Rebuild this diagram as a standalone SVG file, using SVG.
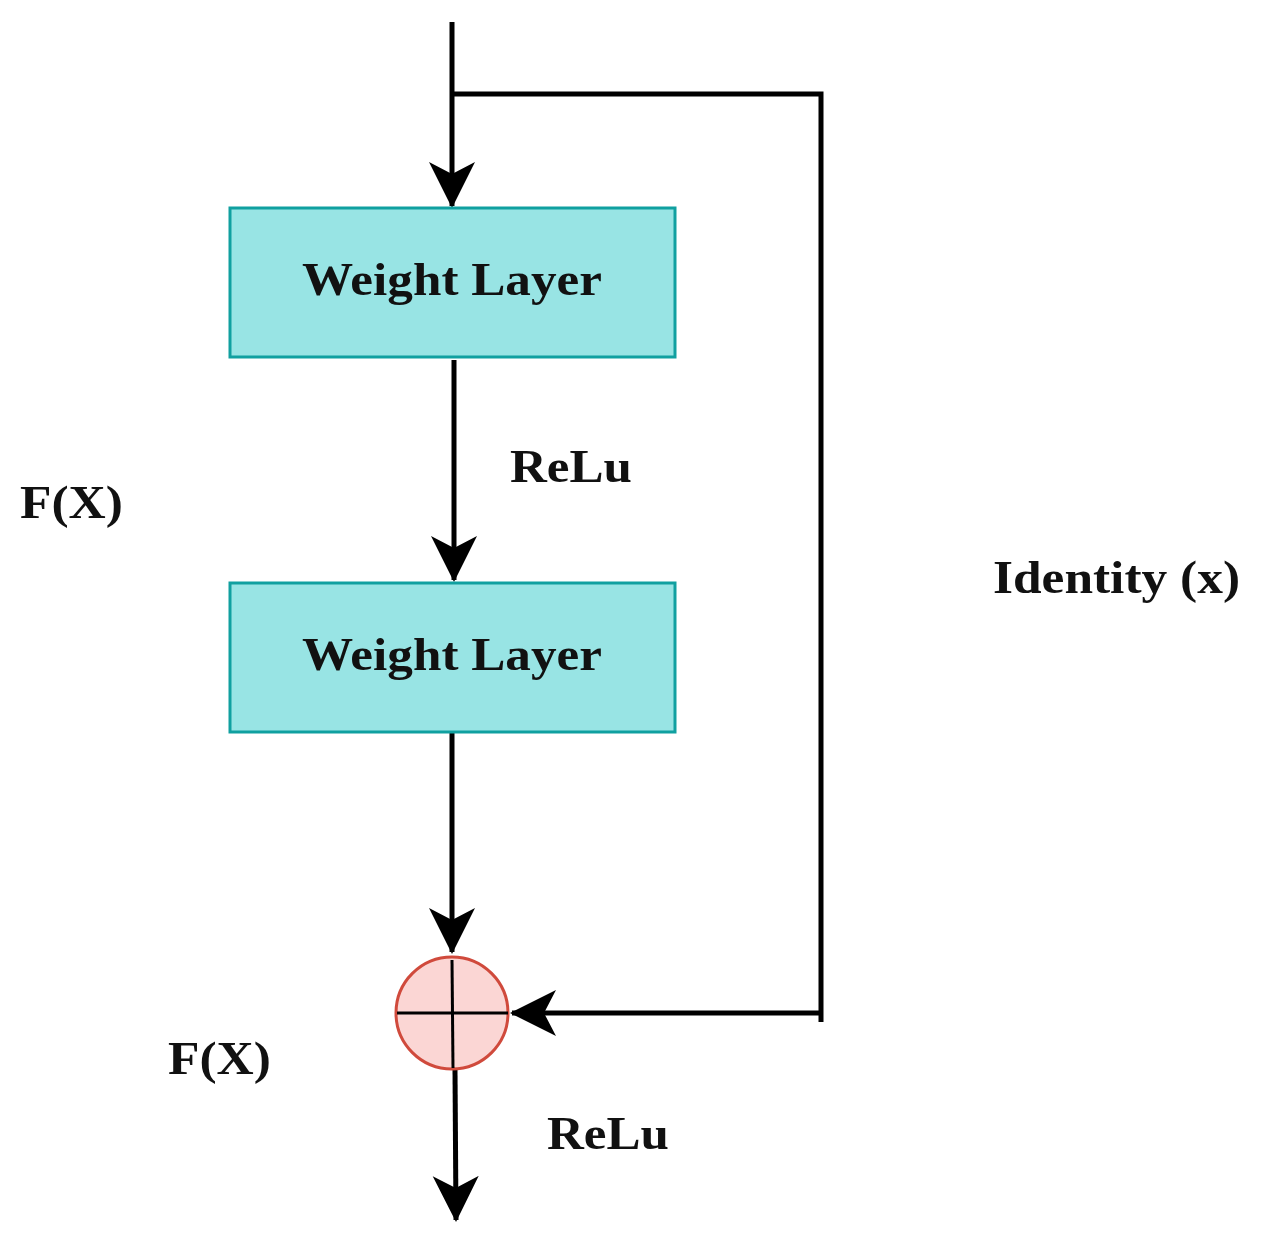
<svg xmlns="http://www.w3.org/2000/svg" width="1261" height="1243" viewBox="0 0 1261 1243">
<style>
.ln{stroke:#000;stroke-width:5;fill:none}
.box{fill:#98e4e4;stroke:#10a0a0;stroke-width:3}
.t{font-family:"Liberation Serif",serif;font-weight:bold;font-size:47px;fill:#111}
</style>
<defs>
<marker id="ah" viewBox="0 0 46 48" refX="44" refY="24" markerWidth="46" markerHeight="48" markerUnits="userSpaceOnUse" orient="auto">
<path d="M0,1 L46,24 L0,47 L12,24 Z" fill="#000"/>
</marker>
</defs>
<rect width="1261" height="1243" fill="#fff"/>
<g id="connectors">
<line class="ln" x1="452" y1="22" x2="452" y2="206" marker-end="url(#ah)"/>
<polyline class="ln" points="452,94 821,94 821,1022"/>
<line class="ln" x1="821" y1="1013" x2="512" y2="1013" marker-end="url(#ah)"/>
<line class="ln" x1="454" y1="360" x2="454" y2="580" marker-end="url(#ah)"/>
<line class="ln" x1="452" y1="733" x2="452" y2="952" marker-end="url(#ah)"/>
<line class="ln" x1="455" y1="1070" x2="456" y2="1220" marker-end="url(#ah)"/>
</g>
<g id="w1"><rect class="box" x="230" y="208" width="445" height="149"/><text class="t" x="302" y="295" textLength="300" lengthAdjust="spacingAndGlyphs">Weight Layer</text></g>
<g id="w2"><rect class="box" x="230" y="583" width="445" height="149"/><text class="t" x="302" y="670" textLength="300" lengthAdjust="spacingAndGlyphs">Weight Layer</text></g>
<g id="add"><circle cx="452" cy="1013" r="56" fill="#fbd6d4" stroke="#d04a3c" stroke-width="3"/>
<line x1="397" y1="1013" x2="508" y2="1013" stroke="#000" stroke-width="3"/>
<line x1="452" y1="960" x2="453" y2="1068" stroke="#000" stroke-width="3"/></g>
<g id="labels">
<text class="t" x="510" y="482" textLength="122" lengthAdjust="spacingAndGlyphs">ReLu</text>
<text class="t" x="20" y="518" textLength="103" lengthAdjust="spacingAndGlyphs">F(X)</text>
<text class="t" x="993" y="593" textLength="247" lengthAdjust="spacingAndGlyphs">Identity (x)</text>
<text class="t" x="168" y="1074" textLength="103" lengthAdjust="spacingAndGlyphs">F(X)</text>
<text class="t" x="547" y="1149" textLength="122" lengthAdjust="spacingAndGlyphs">ReLu</text>
</g>
</svg>
